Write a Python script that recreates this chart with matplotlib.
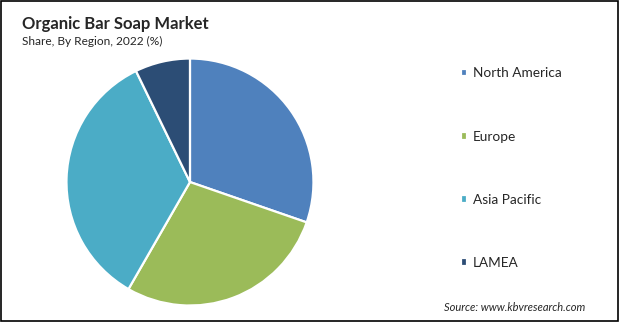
import matplotlib.pyplot as plt
from matplotlib.patches import Rectangle

# regional share of the organic bar soap market, 2022 (%)
regions = ['North America', 'Europe', 'Asia Pacific', 'LAMEA']
shares = [30.3, 28.0, 34.5, 7.2]
colors = ['#4F81BD', '#9BBB59', '#4BACC6', '#2C4D75']

plt.rcParams['font.family'] = ['Lato', 'DejaVu Sans']

fig = plt.figure(figsize=(6.19, 3.22), dpi=100)
fig.add_artist(Rectangle((0.001, 0.002), 0.997, 0.995, transform=fig.transFigure,
                         fill=False, edgecolor='black', linewidth=1.2))

ax = fig.add_axes([0.1074, 0.0512, 0.399, 0.767])
wedges, _ = ax.pie(shares, colors=colors, startangle=90, counterclock=False,
                   wedgeprops=dict(edgecolor='white', linewidth=1.6))
ax.set_xlim(-1, 1)
ax.set_ylim(-1, 1)
ax.set_aspect('auto')

fig.text(0.035, 0.925, 'Organic Bar Soap Market', fontsize=12, fontweight='bold',
         color='#262626', va='center')
fig.text(0.035, 0.872, 'Share, By Region, 2022 (%)', fontsize=8.6, color='#262626', va='center')

fig.legend(wedges, regions, loc='upper left', bbox_to_anchor=(0.733, 0.812),
           frameon=False, fontsize=9.8, labelspacing=3.76, handlelength=0.5,
           handleheight=0.5, handletextpad=0.4, borderpad=0, labelcolor='#262626')

fig.text(0.945, 0.045, 'Source: www.kbvresearch.com', fontsize=8, style='italic',
         color='#262626', ha='right', va='center')

fig.savefig('out.png', dpi=100)
